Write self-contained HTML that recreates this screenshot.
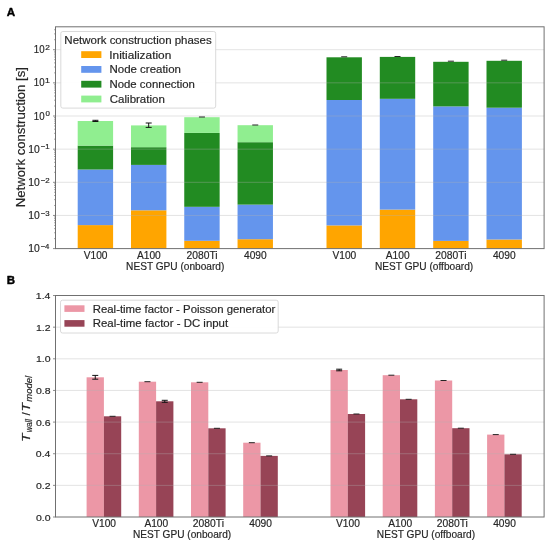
<!DOCTYPE html>
<html><head><meta charset="utf-8"><style>html,body{margin:0;padding:0;background:#fff;width:550px;height:546px;overflow:hidden}svg{display:block;will-change:transform}</style></head>
<body><svg width="550" height="546" viewBox="0 0 550 546" font-family='"Liberation Sans", sans-serif'><rect x="77.70" y="225.10" width="35.40" height="23.50" fill="#FFA500" />
<rect x="77.70" y="169.50" width="35.40" height="55.60" fill="#6495ED" />
<rect x="77.70" y="145.60" width="35.40" height="23.90" fill="#228B22" />
<rect x="77.70" y="121.00" width="35.40" height="24.60" fill="#90EE90" />
<rect x="131.00" y="210.30" width="35.40" height="38.30" fill="#FFA500" />
<rect x="131.00" y="164.90" width="35.40" height="45.40" fill="#6495ED" />
<rect x="131.00" y="147.20" width="35.40" height="17.70" fill="#228B22" />
<rect x="131.00" y="125.40" width="35.40" height="21.80" fill="#90EE90" />
<rect x="184.25" y="240.80" width="35.40" height="7.80" fill="#FFA500" />
<rect x="184.25" y="206.80" width="35.40" height="34.00" fill="#6495ED" />
<rect x="184.25" y="132.90" width="35.40" height="73.90" fill="#228B22" />
<rect x="184.25" y="117.20" width="35.40" height="15.70" fill="#90EE90" />
<rect x="237.55" y="239.20" width="35.40" height="9.40" fill="#FFA500" />
<rect x="237.55" y="204.60" width="35.40" height="34.60" fill="#6495ED" />
<rect x="237.55" y="142.20" width="35.40" height="62.40" fill="#228B22" />
<rect x="237.55" y="125.20" width="35.40" height="17.00" fill="#90EE90" />
<rect x="326.50" y="225.40" width="35.40" height="23.20" fill="#FFA500" />
<rect x="326.50" y="100.00" width="35.40" height="125.40" fill="#6495ED" />
<rect x="326.50" y="57.30" width="35.40" height="42.70" fill="#228B22" />
<rect x="326.50" y="57.30" width="35.40" height="0.00" fill="#90EE90" />
<rect x="379.80" y="209.60" width="35.40" height="39.00" fill="#FFA500" />
<rect x="379.80" y="98.80" width="35.40" height="110.80" fill="#6495ED" />
<rect x="379.80" y="56.90" width="35.40" height="41.90" fill="#228B22" />
<rect x="379.80" y="56.90" width="35.40" height="0.00" fill="#90EE90" />
<rect x="433.20" y="240.90" width="35.40" height="7.70" fill="#FFA500" />
<rect x="433.20" y="106.40" width="35.40" height="134.50" fill="#6495ED" />
<rect x="433.20" y="61.80" width="35.40" height="44.60" fill="#228B22" />
<rect x="433.20" y="61.80" width="35.40" height="0.00" fill="#90EE90" />
<rect x="486.50" y="239.50" width="35.40" height="9.10" fill="#FFA500" />
<rect x="486.50" y="107.70" width="35.40" height="131.80" fill="#6495ED" />
<rect x="486.50" y="60.80" width="35.40" height="46.90" fill="#228B22" />
<rect x="486.50" y="60.80" width="35.40" height="0.00" fill="#90EE90" />
<line x1="55.50" y1="215.45" x2="544.10" y2="215.45" stroke="#b0b0b0" stroke-width="0.8" stroke-opacity="0.45"/>
<line x1="55.50" y1="182.30" x2="544.10" y2="182.30" stroke="#b0b0b0" stroke-width="0.8" stroke-opacity="0.45"/>
<line x1="55.50" y1="149.15" x2="544.10" y2="149.15" stroke="#b0b0b0" stroke-width="0.8" stroke-opacity="0.45"/>
<line x1="55.50" y1="116.00" x2="544.10" y2="116.00" stroke="#b0b0b0" stroke-width="0.8" stroke-opacity="0.45"/>
<line x1="55.50" y1="82.85" x2="544.10" y2="82.85" stroke="#b0b0b0" stroke-width="0.8" stroke-opacity="0.45"/>
<line x1="55.50" y1="49.70" x2="544.10" y2="49.70" stroke="#b0b0b0" stroke-width="0.8" stroke-opacity="0.45"/>
<line x1="95.40" y1="120.30" x2="95.40" y2="121.50" stroke="#111" stroke-width="1" />
<line x1="92.40" y1="120.30" x2="98.40" y2="120.30" stroke="#111" stroke-width="1" />
<line x1="92.40" y1="121.50" x2="98.40" y2="121.50" stroke="#111" stroke-width="1" />
<line x1="148.70" y1="123.00" x2="148.70" y2="127.40" stroke="#111" stroke-width="1" />
<line x1="145.70" y1="123.00" x2="151.70" y2="123.00" stroke="#111" stroke-width="1" />
<line x1="145.70" y1="127.40" x2="151.70" y2="127.40" stroke="#111" stroke-width="1" />
<line x1="198.95" y1="117.00" x2="204.95" y2="117.00" stroke="#1a1a1a" stroke-width="0.95" />
<line x1="252.25" y1="125.00" x2="258.25" y2="125.00" stroke="#1a1a1a" stroke-width="0.95" />
<line x1="341.20" y1="56.80" x2="347.20" y2="56.80" stroke="#1a1a1a" stroke-width="0.95" />
<line x1="394.50" y1="56.50" x2="400.50" y2="56.50" stroke="#1a1a1a" stroke-width="0.95" />
<line x1="447.90" y1="61.20" x2="453.90" y2="61.20" stroke="#1a1a1a" stroke-width="0.95" />
<line x1="501.20" y1="60.20" x2="507.20" y2="60.20" stroke="#1a1a1a" stroke-width="0.95" />
<rect x="60.8" y="31.5" width="154.9" height="76.6" rx="2" ry="2" fill="#fff" fill-opacity="0.95" stroke="#d0d0d0" stroke-width="0.8"/>
<text x="64.36" y="43.60" font-size="10.8" fill="#262626" stroke="#262626" stroke-width="0.18" stroke-linejoin="round" textLength="147.36" lengthAdjust="spacingAndGlyphs" >Network construction phases</text>
<rect x="81.20" y="51.20" width="20.20" height="6.80" fill="#FFA500" />
<text x="109.31" y="58.50" font-size="10.8" fill="#262626" stroke="#262626" stroke-width="0.18" stroke-linejoin="round" textLength="61.96" lengthAdjust="spacingAndGlyphs" >Initialization</text>
<rect x="81.20" y="66.00" width="20.20" height="6.80" fill="#6495ED" />
<text x="109.46" y="73.30" font-size="10.8" fill="#262626" stroke="#262626" stroke-width="0.18" stroke-linejoin="round" textLength="71.49" lengthAdjust="spacingAndGlyphs" >Node creation</text>
<rect x="81.20" y="80.80" width="20.20" height="6.80" fill="#228B22" />
<text x="109.47" y="88.10" font-size="10.8" fill="#262626" stroke="#262626" stroke-width="0.18" stroke-linejoin="round" textLength="85.47" lengthAdjust="spacingAndGlyphs" >Node connection</text>
<rect x="81.20" y="95.60" width="20.20" height="6.80" fill="#90EE90" />
<text x="109.82" y="102.90" font-size="10.8" fill="#262626" stroke="#262626" stroke-width="0.18" stroke-linejoin="round" textLength="55.03" lengthAdjust="spacingAndGlyphs" >Calibration</text>
<rect x="55.5" y="26.8" width="488.6" height="221.79999999999998" fill="none" stroke="#707070" stroke-width="1"/>
<line x1="53.00" y1="248.60" x2="55.50" y2="248.60" stroke="#707070" stroke-width="0.8" />
<line x1="53.00" y1="215.45" x2="55.50" y2="215.45" stroke="#707070" stroke-width="0.8" />
<line x1="53.00" y1="182.30" x2="55.50" y2="182.30" stroke="#707070" stroke-width="0.8" />
<line x1="53.00" y1="149.15" x2="55.50" y2="149.15" stroke="#707070" stroke-width="0.8" />
<line x1="53.00" y1="116.00" x2="55.50" y2="116.00" stroke="#707070" stroke-width="0.8" />
<line x1="53.00" y1="82.85" x2="55.50" y2="82.85" stroke="#707070" stroke-width="0.8" />
<line x1="53.00" y1="49.70" x2="55.50" y2="49.70" stroke="#707070" stroke-width="0.8" />
<line x1="54.00" y1="238.62" x2="55.50" y2="238.62" stroke="#707070" stroke-width="0.6" />
<line x1="54.00" y1="232.78" x2="55.50" y2="232.78" stroke="#707070" stroke-width="0.6" />
<line x1="54.00" y1="228.64" x2="55.50" y2="228.64" stroke="#707070" stroke-width="0.6" />
<line x1="54.00" y1="225.43" x2="55.50" y2="225.43" stroke="#707070" stroke-width="0.6" />
<line x1="54.00" y1="222.80" x2="55.50" y2="222.80" stroke="#707070" stroke-width="0.6" />
<line x1="54.00" y1="220.58" x2="55.50" y2="220.58" stroke="#707070" stroke-width="0.6" />
<line x1="54.00" y1="218.66" x2="55.50" y2="218.66" stroke="#707070" stroke-width="0.6" />
<line x1="54.00" y1="216.97" x2="55.50" y2="216.97" stroke="#707070" stroke-width="0.6" />
<line x1="54.00" y1="205.47" x2="55.50" y2="205.47" stroke="#707070" stroke-width="0.6" />
<line x1="54.00" y1="199.63" x2="55.50" y2="199.63" stroke="#707070" stroke-width="0.6" />
<line x1="54.00" y1="195.49" x2="55.50" y2="195.49" stroke="#707070" stroke-width="0.6" />
<line x1="54.00" y1="192.28" x2="55.50" y2="192.28" stroke="#707070" stroke-width="0.6" />
<line x1="54.00" y1="189.65" x2="55.50" y2="189.65" stroke="#707070" stroke-width="0.6" />
<line x1="54.00" y1="187.43" x2="55.50" y2="187.43" stroke="#707070" stroke-width="0.6" />
<line x1="54.00" y1="185.51" x2="55.50" y2="185.51" stroke="#707070" stroke-width="0.6" />
<line x1="54.00" y1="183.82" x2="55.50" y2="183.82" stroke="#707070" stroke-width="0.6" />
<line x1="54.00" y1="172.32" x2="55.50" y2="172.32" stroke="#707070" stroke-width="0.6" />
<line x1="54.00" y1="166.48" x2="55.50" y2="166.48" stroke="#707070" stroke-width="0.6" />
<line x1="54.00" y1="162.34" x2="55.50" y2="162.34" stroke="#707070" stroke-width="0.6" />
<line x1="54.00" y1="159.13" x2="55.50" y2="159.13" stroke="#707070" stroke-width="0.6" />
<line x1="54.00" y1="156.50" x2="55.50" y2="156.50" stroke="#707070" stroke-width="0.6" />
<line x1="54.00" y1="154.28" x2="55.50" y2="154.28" stroke="#707070" stroke-width="0.6" />
<line x1="54.00" y1="152.36" x2="55.50" y2="152.36" stroke="#707070" stroke-width="0.6" />
<line x1="54.00" y1="150.67" x2="55.50" y2="150.67" stroke="#707070" stroke-width="0.6" />
<line x1="54.00" y1="139.17" x2="55.50" y2="139.17" stroke="#707070" stroke-width="0.6" />
<line x1="54.00" y1="133.33" x2="55.50" y2="133.33" stroke="#707070" stroke-width="0.6" />
<line x1="54.00" y1="129.19" x2="55.50" y2="129.19" stroke="#707070" stroke-width="0.6" />
<line x1="54.00" y1="125.98" x2="55.50" y2="125.98" stroke="#707070" stroke-width="0.6" />
<line x1="54.00" y1="123.35" x2="55.50" y2="123.35" stroke="#707070" stroke-width="0.6" />
<line x1="54.00" y1="121.13" x2="55.50" y2="121.13" stroke="#707070" stroke-width="0.6" />
<line x1="54.00" y1="119.21" x2="55.50" y2="119.21" stroke="#707070" stroke-width="0.6" />
<line x1="54.00" y1="117.52" x2="55.50" y2="117.52" stroke="#707070" stroke-width="0.6" />
<line x1="54.00" y1="106.02" x2="55.50" y2="106.02" stroke="#707070" stroke-width="0.6" />
<line x1="54.00" y1="100.18" x2="55.50" y2="100.18" stroke="#707070" stroke-width="0.6" />
<line x1="54.00" y1="96.04" x2="55.50" y2="96.04" stroke="#707070" stroke-width="0.6" />
<line x1="54.00" y1="92.83" x2="55.50" y2="92.83" stroke="#707070" stroke-width="0.6" />
<line x1="54.00" y1="90.20" x2="55.50" y2="90.20" stroke="#707070" stroke-width="0.6" />
<line x1="54.00" y1="87.98" x2="55.50" y2="87.98" stroke="#707070" stroke-width="0.6" />
<line x1="54.00" y1="86.06" x2="55.50" y2="86.06" stroke="#707070" stroke-width="0.6" />
<line x1="54.00" y1="84.37" x2="55.50" y2="84.37" stroke="#707070" stroke-width="0.6" />
<line x1="54.00" y1="72.87" x2="55.50" y2="72.87" stroke="#707070" stroke-width="0.6" />
<line x1="54.00" y1="67.03" x2="55.50" y2="67.03" stroke="#707070" stroke-width="0.6" />
<line x1="54.00" y1="62.89" x2="55.50" y2="62.89" stroke="#707070" stroke-width="0.6" />
<line x1="54.00" y1="59.68" x2="55.50" y2="59.68" stroke="#707070" stroke-width="0.6" />
<line x1="54.00" y1="57.05" x2="55.50" y2="57.05" stroke="#707070" stroke-width="0.6" />
<line x1="54.00" y1="54.83" x2="55.50" y2="54.83" stroke="#707070" stroke-width="0.6" />
<line x1="54.00" y1="52.91" x2="55.50" y2="52.91" stroke="#707070" stroke-width="0.6" />
<line x1="54.00" y1="51.22" x2="55.50" y2="51.22" stroke="#707070" stroke-width="0.6" />
<line x1="54.00" y1="39.72" x2="55.50" y2="39.72" stroke="#707070" stroke-width="0.6" />
<line x1="54.00" y1="33.88" x2="55.50" y2="33.88" stroke="#707070" stroke-width="0.6" />
<line x1="54.00" y1="29.74" x2="55.50" y2="29.74" stroke="#707070" stroke-width="0.6" />
<text x="28.31" y="252.20" font-size="10.0" fill="#262626" stroke="#262626" stroke-width="0.18" stroke-linejoin="round" textLength="11.49" lengthAdjust="spacingAndGlyphs" >10</text>
<text x="40.62" y="248.80" font-size="7.0" fill="#262626" stroke="#262626" stroke-width="0.18" stroke-linejoin="round" textLength="8.81" lengthAdjust="spacingAndGlyphs" >−4</text>
<text x="28.31" y="219.05" font-size="10.0" fill="#262626" stroke="#262626" stroke-width="0.18" stroke-linejoin="round" textLength="11.49" lengthAdjust="spacingAndGlyphs" >10</text>
<text x="40.61" y="215.65" font-size="7.0" fill="#262626" stroke="#262626" stroke-width="0.18" stroke-linejoin="round" textLength="8.93" lengthAdjust="spacingAndGlyphs" >−3</text>
<text x="28.31" y="185.90" font-size="10.0" fill="#262626" stroke="#262626" stroke-width="0.18" stroke-linejoin="round" textLength="11.49" lengthAdjust="spacingAndGlyphs" >10</text>
<text x="40.61" y="182.50" font-size="7.0" fill="#262626" stroke="#262626" stroke-width="0.18" stroke-linejoin="round" textLength="8.98" lengthAdjust="spacingAndGlyphs" >−2</text>
<text x="28.31" y="152.75" font-size="10.0" fill="#262626" stroke="#262626" stroke-width="0.18" stroke-linejoin="round" textLength="11.49" lengthAdjust="spacingAndGlyphs" >10</text>
<text x="40.61" y="149.35" font-size="7.0" fill="#262626" stroke="#262626" stroke-width="0.18" stroke-linejoin="round" textLength="8.97" lengthAdjust="spacingAndGlyphs" >−1</text>
<text x="33.87" y="119.60" font-size="10.0" fill="#262626" stroke="#262626" stroke-width="0.18" stroke-linejoin="round" textLength="10.71" lengthAdjust="spacingAndGlyphs" >10</text>
<text x="45.49" y="116.20" font-size="7.0" fill="#262626" stroke="#262626" stroke-width="0.18" stroke-linejoin="round" textLength="4.42" lengthAdjust="spacingAndGlyphs" >0</text>
<text x="33.87" y="86.45" font-size="10.0" fill="#262626" stroke="#262626" stroke-width="0.18" stroke-linejoin="round" textLength="10.71" lengthAdjust="spacingAndGlyphs" >10</text>
<text x="45.13" y="83.05" font-size="7.0" fill="#262626" stroke="#262626" stroke-width="0.18" stroke-linejoin="round" textLength="4.90" lengthAdjust="spacingAndGlyphs" >1</text>
<text x="33.87" y="53.30" font-size="10.0" fill="#262626" stroke="#262626" stroke-width="0.18" stroke-linejoin="round" textLength="10.71" lengthAdjust="spacingAndGlyphs" >10</text>
<text x="45.38" y="49.90" font-size="7.0" fill="#262626" stroke="#262626" stroke-width="0.18" stroke-linejoin="round" textLength="4.64" lengthAdjust="spacingAndGlyphs" >2</text>
<text x="83.67" y="259.00" font-size="10.2" fill="#262626" stroke="#262626" stroke-width="0.18" stroke-linejoin="round" textLength="23.82" lengthAdjust="spacingAndGlyphs" >V100</text>
<text x="136.98" y="259.00" font-size="10.2" fill="#262626" stroke="#262626" stroke-width="0.18" stroke-linejoin="round" textLength="23.82" lengthAdjust="spacingAndGlyphs" >A100</text>
<text x="186.44" y="259.00" font-size="10.2" fill="#262626" stroke="#262626" stroke-width="0.18" stroke-linejoin="round" textLength="31.19" lengthAdjust="spacingAndGlyphs" >2080Ti</text>
<text x="243.99" y="259.00" font-size="10.2" fill="#262626" stroke="#262626" stroke-width="0.18" stroke-linejoin="round" textLength="22.69" lengthAdjust="spacingAndGlyphs" >4090</text>
<text x="332.47" y="259.00" font-size="10.2" fill="#262626" stroke="#262626" stroke-width="0.18" stroke-linejoin="round" textLength="23.82" lengthAdjust="spacingAndGlyphs" >V100</text>
<text x="385.78" y="259.00" font-size="10.2" fill="#262626" stroke="#262626" stroke-width="0.18" stroke-linejoin="round" textLength="23.82" lengthAdjust="spacingAndGlyphs" >A100</text>
<text x="435.39" y="259.00" font-size="10.2" fill="#262626" stroke="#262626" stroke-width="0.18" stroke-linejoin="round" textLength="31.19" lengthAdjust="spacingAndGlyphs" >2080Ti</text>
<text x="492.94" y="259.00" font-size="10.2" fill="#262626" stroke="#262626" stroke-width="0.18" stroke-linejoin="round" textLength="22.69" lengthAdjust="spacingAndGlyphs" >4090</text>
<text x="126.08" y="269.70" font-size="10.1" fill="#262626" stroke="#262626" stroke-width="0.18" stroke-linejoin="round" textLength="98.23" lengthAdjust="spacingAndGlyphs" >NEST GPU (onboard)</text>
<text x="374.99" y="269.70" font-size="10.1" fill="#262626" stroke="#262626" stroke-width="0.18" stroke-linejoin="round" textLength="98.22" lengthAdjust="spacingAndGlyphs" >NEST GPU (offboard)</text>
<g transform="translate(25.1,206.1) rotate(-90)">
<text x="-1.08" y="0.00" font-size="12.0" fill="#262626" stroke="#262626" stroke-width="0.18" stroke-linejoin="round" textLength="140.11" lengthAdjust="spacingAndGlyphs" >Network construction [s]</text>
</g>
<text x="6.81" y="15.60" font-size="11.8" font-weight="bold" fill="#000" stroke="#000" stroke-width="0.45" stroke-linejoin="round" textLength="8.40" lengthAdjust="spacingAndGlyphs" >A</text>
<rect x="86.60" y="377.30" width="17.30" height="139.70" fill="#EC97A6" />
<rect x="103.90" y="416.30" width="17.30" height="100.70" fill="#974456" />
<rect x="138.80" y="381.70" width="17.30" height="135.30" fill="#EC97A6" />
<rect x="156.10" y="401.30" width="17.30" height="115.70" fill="#974456" />
<rect x="191.00" y="382.30" width="17.30" height="134.70" fill="#EC97A6" />
<rect x="208.30" y="428.30" width="17.30" height="88.70" fill="#974456" />
<rect x="243.20" y="442.70" width="17.30" height="74.30" fill="#EC97A6" />
<rect x="260.50" y="455.90" width="17.30" height="61.10" fill="#974456" />
<rect x="330.50" y="370.00" width="17.30" height="147.00" fill="#EC97A6" />
<rect x="347.80" y="414.00" width="17.30" height="103.00" fill="#974456" />
<rect x="382.70" y="375.20" width="17.30" height="141.80" fill="#EC97A6" />
<rect x="400.00" y="399.30" width="17.30" height="117.70" fill="#974456" />
<rect x="434.90" y="380.50" width="17.30" height="136.50" fill="#EC97A6" />
<rect x="452.20" y="428.20" width="17.30" height="88.80" fill="#974456" />
<rect x="487.10" y="434.60" width="17.30" height="82.40" fill="#EC97A6" />
<rect x="504.40" y="454.30" width="17.30" height="62.70" fill="#974456" />
<line x1="55.50" y1="485.36" x2="544.10" y2="485.36" stroke="#b0b0b0" stroke-width="0.8" stroke-opacity="0.45"/>
<line x1="55.50" y1="453.72" x2="544.10" y2="453.72" stroke="#b0b0b0" stroke-width="0.8" stroke-opacity="0.45"/>
<line x1="55.50" y1="422.08" x2="544.10" y2="422.08" stroke="#b0b0b0" stroke-width="0.8" stroke-opacity="0.45"/>
<line x1="55.50" y1="390.44" x2="544.10" y2="390.44" stroke="#b0b0b0" stroke-width="0.8" stroke-opacity="0.45"/>
<line x1="55.50" y1="358.80" x2="544.10" y2="358.80" stroke="#b0b0b0" stroke-width="0.8" stroke-opacity="0.45"/>
<line x1="55.50" y1="327.16" x2="544.10" y2="327.16" stroke="#b0b0b0" stroke-width="0.8" stroke-opacity="0.45"/>
<line x1="95.25" y1="375.40" x2="95.25" y2="379.20" stroke="#111" stroke-width="1" />
<line x1="92.25" y1="375.40" x2="98.25" y2="375.40" stroke="#111" stroke-width="1" />
<line x1="92.25" y1="379.20" x2="98.25" y2="379.20" stroke="#111" stroke-width="1" />
<line x1="109.55" y1="416.30" x2="115.55" y2="416.30" stroke="#1a1a1a" stroke-width="0.95" />
<line x1="144.45" y1="381.70" x2="150.45" y2="381.70" stroke="#1a1a1a" stroke-width="0.95" />
<line x1="164.75" y1="400.30" x2="164.75" y2="402.30" stroke="#111" stroke-width="1" />
<line x1="161.75" y1="400.30" x2="167.75" y2="400.30" stroke="#111" stroke-width="1" />
<line x1="161.75" y1="402.30" x2="167.75" y2="402.30" stroke="#111" stroke-width="1" />
<line x1="196.65" y1="382.30" x2="202.65" y2="382.30" stroke="#1a1a1a" stroke-width="0.95" />
<line x1="213.95" y1="428.30" x2="219.95" y2="428.30" stroke="#1a1a1a" stroke-width="0.95" />
<line x1="248.85" y1="442.70" x2="254.85" y2="442.70" stroke="#1a1a1a" stroke-width="0.95" />
<line x1="266.15" y1="455.90" x2="272.15" y2="455.90" stroke="#1a1a1a" stroke-width="0.95" />
<line x1="339.15" y1="369.20" x2="339.15" y2="370.80" stroke="#111" stroke-width="1" />
<line x1="336.15" y1="369.20" x2="342.15" y2="369.20" stroke="#111" stroke-width="1" />
<line x1="336.15" y1="370.80" x2="342.15" y2="370.80" stroke="#111" stroke-width="1" />
<line x1="353.45" y1="414.00" x2="359.45" y2="414.00" stroke="#1a1a1a" stroke-width="0.95" />
<line x1="388.35" y1="375.20" x2="394.35" y2="375.20" stroke="#1a1a1a" stroke-width="0.95" />
<line x1="405.65" y1="399.30" x2="411.65" y2="399.30" stroke="#1a1a1a" stroke-width="0.95" />
<line x1="440.55" y1="380.50" x2="446.55" y2="380.50" stroke="#1a1a1a" stroke-width="0.95" />
<line x1="457.85" y1="428.20" x2="463.85" y2="428.20" stroke="#1a1a1a" stroke-width="0.95" />
<line x1="492.75" y1="434.60" x2="498.75" y2="434.60" stroke="#1a1a1a" stroke-width="0.95" />
<line x1="510.05" y1="454.30" x2="516.05" y2="454.30" stroke="#1a1a1a" stroke-width="0.95" />
<rect x="60.5" y="300.2" width="217.7" height="32.8" rx="2" ry="2" fill="#fff" fill-opacity="0.95" stroke="#d0d0d0" stroke-width="0.8"/>
<rect x="64.40" y="305.30" width="20.10" height="6.60" fill="#EC97A6" />
<rect x="64.40" y="320.10" width="20.10" height="6.60" fill="#974456" />
<text x="92.77" y="312.50" font-size="10.8" fill="#262626" stroke="#262626" stroke-width="0.18" stroke-linejoin="round" textLength="182.52" lengthAdjust="spacingAndGlyphs" >Real-time factor - Poisson generator</text>
<text x="92.76" y="327.10" font-size="10.8" fill="#262626" stroke="#262626" stroke-width="0.18" stroke-linejoin="round" textLength="135.42" lengthAdjust="spacingAndGlyphs" >Real-time factor - DC input</text>
<rect x="55.5" y="295.5" width="488.6" height="221.5" fill="none" stroke="#707070" stroke-width="1"/>
<line x1="53.00" y1="517.00" x2="55.50" y2="517.00" stroke="#707070" stroke-width="0.8" />
<text x="35.92" y="520.55" font-size="9.9" fill="#262626" stroke="#262626" stroke-width="0.18" stroke-linejoin="round" textLength="14.59" lengthAdjust="spacingAndGlyphs" >0.0</text>
<line x1="53.00" y1="485.36" x2="55.50" y2="485.36" stroke="#707070" stroke-width="0.8" />
<text x="36.04" y="488.91" font-size="9.9" fill="#262626" stroke="#262626" stroke-width="0.18" stroke-linejoin="round" textLength="14.59" lengthAdjust="spacingAndGlyphs" >0.2</text>
<line x1="53.00" y1="453.72" x2="55.50" y2="453.72" stroke="#707070" stroke-width="0.8" />
<text x="35.82" y="457.27" font-size="9.9" fill="#262626" stroke="#262626" stroke-width="0.18" stroke-linejoin="round" textLength="14.59" lengthAdjust="spacingAndGlyphs" >0.4</text>
<line x1="53.00" y1="422.08" x2="55.50" y2="422.08" stroke="#707070" stroke-width="0.8" />
<text x="35.97" y="425.63" font-size="9.9" fill="#262626" stroke="#262626" stroke-width="0.18" stroke-linejoin="round" textLength="14.59" lengthAdjust="spacingAndGlyphs" >0.6</text>
<line x1="53.00" y1="390.44" x2="55.50" y2="390.44" stroke="#707070" stroke-width="0.8" />
<text x="35.97" y="393.99" font-size="9.9" fill="#262626" stroke="#262626" stroke-width="0.18" stroke-linejoin="round" textLength="14.59" lengthAdjust="spacingAndGlyphs" >0.8</text>
<line x1="53.00" y1="358.80" x2="55.50" y2="358.80" stroke="#707070" stroke-width="0.8" />
<text x="35.92" y="362.35" font-size="9.9" fill="#262626" stroke="#262626" stroke-width="0.18" stroke-linejoin="round" textLength="14.59" lengthAdjust="spacingAndGlyphs" >1.0</text>
<line x1="53.00" y1="327.16" x2="55.50" y2="327.16" stroke="#707070" stroke-width="0.8" />
<text x="36.04" y="330.71" font-size="9.9" fill="#262626" stroke="#262626" stroke-width="0.18" stroke-linejoin="round" textLength="14.59" lengthAdjust="spacingAndGlyphs" >1.2</text>
<line x1="53.00" y1="295.52" x2="55.50" y2="295.52" stroke="#707070" stroke-width="0.8" />
<text x="35.82" y="299.07" font-size="9.9" fill="#262626" stroke="#262626" stroke-width="0.18" stroke-linejoin="round" textLength="14.59" lengthAdjust="spacingAndGlyphs" >1.4</text>
<text x="92.17" y="527.30" font-size="10.2" fill="#262626" stroke="#262626" stroke-width="0.18" stroke-linejoin="round" textLength="23.82" lengthAdjust="spacingAndGlyphs" >V100</text>
<text x="144.38" y="527.30" font-size="10.2" fill="#262626" stroke="#262626" stroke-width="0.18" stroke-linejoin="round" textLength="23.82" lengthAdjust="spacingAndGlyphs" >A100</text>
<text x="192.79" y="527.30" font-size="10.2" fill="#262626" stroke="#262626" stroke-width="0.18" stroke-linejoin="round" textLength="31.19" lengthAdjust="spacingAndGlyphs" >2080Ti</text>
<text x="249.24" y="527.30" font-size="10.2" fill="#262626" stroke="#262626" stroke-width="0.18" stroke-linejoin="round" textLength="22.69" lengthAdjust="spacingAndGlyphs" >4090</text>
<text x="336.07" y="527.30" font-size="10.2" fill="#262626" stroke="#262626" stroke-width="0.18" stroke-linejoin="round" textLength="23.82" lengthAdjust="spacingAndGlyphs" >V100</text>
<text x="388.28" y="527.30" font-size="10.2" fill="#262626" stroke="#262626" stroke-width="0.18" stroke-linejoin="round" textLength="23.82" lengthAdjust="spacingAndGlyphs" >A100</text>
<text x="436.69" y="527.30" font-size="10.2" fill="#262626" stroke="#262626" stroke-width="0.18" stroke-linejoin="round" textLength="31.19" lengthAdjust="spacingAndGlyphs" >2080Ti</text>
<text x="493.14" y="527.30" font-size="10.2" fill="#262626" stroke="#262626" stroke-width="0.18" stroke-linejoin="round" textLength="22.69" lengthAdjust="spacingAndGlyphs" >4090</text>
<text x="132.98" y="538.10" font-size="10.1" fill="#262626" stroke="#262626" stroke-width="0.18" stroke-linejoin="round" textLength="98.23" lengthAdjust="spacingAndGlyphs" >NEST GPU (onboard)</text>
<text x="376.89" y="538.10" font-size="10.1" fill="#262626" stroke="#262626" stroke-width="0.18" stroke-linejoin="round" textLength="98.22" lengthAdjust="spacingAndGlyphs" >NEST GPU (offboard)</text>
<g transform="translate(29.8,441.0) rotate(-90)">
<text x="-1.07" y="0.00" font-size="11.6" font-style="italic" fill="#262626" stroke="#262626" stroke-width="0.18" stroke-linejoin="round" textLength="8.63" lengthAdjust="spacingAndGlyphs" >T</text>
<text x="8.82" y="2.00" font-size="8.8" font-style="italic" fill="#262626" stroke="#262626" stroke-width="0.18" stroke-linejoin="round" textLength="13.01" lengthAdjust="spacingAndGlyphs" >wall</text>
<text x="25.60" y="0.00" font-size="11.5" fill="#262626" stroke="#262626" stroke-width="0.18" stroke-linejoin="round" textLength="3.20" lengthAdjust="spacingAndGlyphs" >/</text>
<text x="29.53" y="0.00" font-size="11.6" font-style="italic" fill="#262626" stroke="#262626" stroke-width="0.18" stroke-linejoin="round" textLength="8.63" lengthAdjust="spacingAndGlyphs" >T</text>
<text x="39.24" y="2.00" font-size="8.8" font-style="italic" fill="#262626" stroke="#262626" stroke-width="0.18" stroke-linejoin="round" textLength="25.84" lengthAdjust="spacingAndGlyphs" >model</text>
</g>
<text x="6.83" y="284.00" font-size="11.8" font-weight="bold" fill="#000" stroke="#000" stroke-width="0.45" stroke-linejoin="round" textLength="8.29" lengthAdjust="spacingAndGlyphs" >B</text></svg></body></html>
